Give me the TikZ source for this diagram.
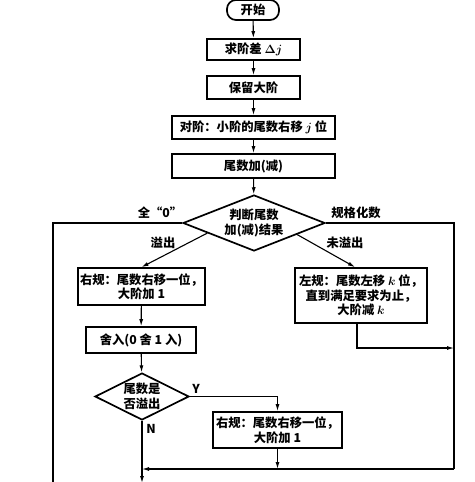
\documentclass[tikz,border=0pt]{standalone}
\usepackage{amsmath}
\usepackage{fontspec}
\newfontfamily\cjk{Noto Sans CJK SC}
\usetikzlibrary{arrows.meta,positioning,shapes.geometric,calc}

\begin{document}
\begin{tikzpicture}[x=1pt,y=-1pt,thick,line width=1.1pt,-{Latex[length=7pt,width=4pt]},
  font=\cjk\bfseries\fontsize{12.3}{14.5}\selectfont]

\tikzstyle{proc}=[draw=black,line width=1.7pt,rectangle,align=center,inner xsep=1.5pt,inner ysep=0pt]
\tikzstyle{cond}=[draw=black,line width=1.7pt,diamond,align=center,inner sep=0pt]
\tikzstyle{lbl}=[inner sep=1pt]

\useasboundingbox (0,0) rectangle (474,482);

%start
\node [proc,rounded corners=9pt,minimum width=52pt,minimum height=20pt] (start) at (253,10) {开始};

%main column
\node [proc,minimum width=93pt,minimum height=21pt] (diff) at (253.5,49.5) {求阶差 $\boldsymbol{\Delta j}$};
\node [proc,minimum width=93pt,minimum height=23pt] (keep) at (253.5,87.5) {保留大阶};
\node [proc,minimum width=163pt,minimum height=23pt] (align) at (253.5,127.5) {对阶：小阶的尾数右移 $\boldsymbol{j}$ 位};
\node [proc,minimum width=163pt,minimum height=24pt] (add) at (253.5,166) {尾数加(减)};
\node [cond,minimum width=142pt,minimum height=56pt,aspect=2.5] (res) at (254,223) {判断尾数\\加(减)结果};

\path (start) edge (diff)
      (diff) edge (keep)
      (keep) edge (align)
      (align) edge (add)
      (add) edge (res);

%overflow branch
\node [proc,minimum width=127pt,minimum height=37pt] (rshift) at (141.5,286.5) {右规：尾数右移一位，\\大阶加 1};
\node [proc,minimum width=110pt,minimum height=26pt] (round) at (141,340) {舍入(0 舍 1 入)};
\node [cond,minimum width=94pt,minimum height=47pt,aspect=2] (ovf) at (142,396.5) {尾数是\\否溢出};
\node [proc,minimum width=129pt,minimum height=36pt] (rshift2) at (277.5,430) {右规：尾数右移一位，\\大阶加 1};

\path ($(res.west)!0.35!(res.south)$) edge (rshift.north)
      (rshift) edge (round)
      (round) edge (ovf);

\draw (ovf.east) -| (rshift2.north);

%no overflow branch
\node [proc,minimum width=132pt,minimum height=55pt] (lshift) at (361,295.5) {左规：尾数左移 $\boldsymbol{k}$ 位，\\直到满足要求为止，\\大阶减 $\boldsymbol{k}$};

\path ($(res.east)!0.4!(res.south)$) edge ([xshift=-6pt]lshift.north);

%return lines
\coordinate (rtop) at (454,223);
\coordinate (rbot) at (454,469);
\coordinate (ljoin) at (454,348);
\coordinate (merge) at (ovf |- rbot);
\coordinate (ltop) at (53,223);
\coordinate (lbot) at (53,484);
\coordinate (nbot) at (142,483);

\draw [-] (res.east) -- (rtop) -- (rbot);
\draw (rbot) -- (merge);
\draw ([xshift=-4pt]lshift.south) |- (ljoin);
\draw (rshift2.south) -- (rshift2.south |- rbot);
\draw [-] (res.west) -- (ltop) -- (lbot);
\draw (ovf.south) -- (nbot);

%labels
\node [lbl] (zero) at (160,213) {全“0”};
\node [lbl] (norm) at (356,213) {规格化数};
\node [lbl] (ov) at (163,243) {溢出};
\node [lbl] (nov) at (345,243) {未溢出};
\node [lbl] (yes) at (196,389) {Y};
\node [lbl] (no) at (151,429) {N};

\end{tikzpicture}
\end{document}
